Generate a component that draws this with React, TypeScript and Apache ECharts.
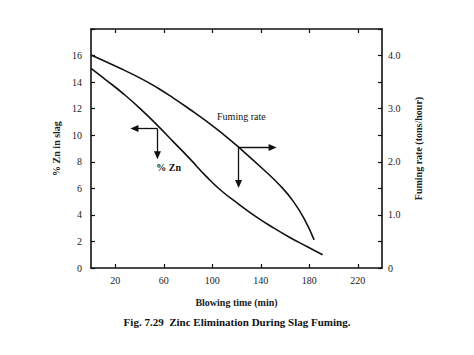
import React, { useEffect, useRef } from "react";
import * as echarts from "echarts";

const timeZn = [0, 13, 27, 41, 55, 68, 82, 95, 108, 122, 136, 150, 164, 178, 191];
const znValues = [15.04, 14.12, 13.1, 11.97, 10.72, 9.5, 8.18, 6.9, 5.78, 4.8, 3.87, 3.05, 2.3, 1.62, 1.0];

const timeFume = [0, 24, 41, 55, 68, 82, 96, 109, 121, 142, 156.5, 167, 176, 184];
const fumeValues = [4.01, 3.76, 3.57, 3.39, 3.2, 2.98, 2.75, 2.52, 2.29, 1.86, 1.54, 1.25, 0.92, 0.53];

const xTicks = [20, 60, 100, 140, 180, 220];

const FONT = "'Liberation Serif', 'DejaVu Serif', serif";

export default function App() {
  const ref = useRef<HTMLDivElement>(null);
  useEffect(() => {
    if (!ref.current) return;
    const chart = echarts.init(ref.current, null, { renderer: "svg" });
    const axisLine = { show: true, onZero: false, lineStyle: { color: "#111", width: 1.6 } };
    const tick = { show: true, inside: true, length: 4, lineStyle: { color: "#111", width: 1.2 } };
    const labelPoint = (text: string, coord: number[], bold: boolean) => ({
      symbol: "circle",
      symbolSize: 1,
      itemStyle: { color: "rgba(0,0,0,0)" },
      label: {
        show: true,
        position: "inside",
        formatter: text,
        color: "#111",
        fontFamily: FONT,
        fontSize: 10,
        fontWeight: bold ? "bold" : "normal",
      },
      data: [{ coord }],
    });
    chart.setOption({
      animation: false,
      backgroundColor: "#fff",
      grid: { left: 91, right: 92, top: 29, bottom: 87 },
      xAxis: [
        {
          type: "value",
          position: "bottom",
          min: 0,
          max: 240,
          axisLine,
          axisTick: { ...tick, customValues: xTicks },
          axisLabel: { customValues: xTicks, color: "#222", fontFamily: FONT, fontSize: 10, margin: 7 },
          splitLine: { show: false },
          name: "Blowing time (min)",
          nameLocation: "middle",
          nameGap: 29,
          nameTextStyle: { color: "#222", fontFamily: FONT, fontSize: 10, fontWeight: "bold" },
        },
        {
          type: "value",
          position: "top",
          min: 0,
          max: 240,
          axisLine,
          axisTick: { ...tick, customValues: xTicks },
          axisLabel: { show: false },
          splitLine: { show: false },
        },
      ],
      yAxis: [
        {
          type: "value",
          position: "left",
          min: 0,
          max: 18,
          interval: 2,
          axisLine,
          axisTick: tick,
          axisLabel: {
            color: "#222",
            fontFamily: FONT,
            fontSize: 10,
            margin: 9,
            formatter: (v: number) => (v === 18 ? "" : String(v)),
          },
          splitLine: { show: false },
          name: "% Zn in slag",
          nameLocation: "middle",
          nameGap: 29,
          nameRotate: 90,
          nameTextStyle: { color: "#222", fontFamily: FONT, fontSize: 10, fontWeight: "bold" },
        },
        {
          type: "value",
          position: "right",
          min: 0,
          max: 4.5,
          interval: 0.5,
          axisLine,
          axisTick: tick,
          axisLabel: {
            color: "#222",
            fontFamily: FONT,
            fontSize: 10,
            margin: 6,
            formatter: (v: number) => (v === 0 ? "0" : Math.abs(v % 1) < 1e-9 ? v.toFixed(1) : ""),
          },
          splitLine: { show: false },
          name: "Fuming rate (tons/hour)",
          nameLocation: "middle",
          nameGap: 31,
          nameRotate: 90,
          nameTextStyle: { color: "#222", fontFamily: FONT, fontSize: 10, fontWeight: "bold" },
        },
      ],
      series: [
        {
          type: "line",
          name: "% Zn",
          xAxisIndex: 0,
          yAxisIndex: 0,
          data: timeZn.map((t, i) => [t, znValues[i]]),
          smooth: 0.5,
          showSymbol: false,
          lineStyle: { color: "#111", width: 1.6 },
          markLine: {
            silent: true,
            symbol: ["none", "triangle"],
            symbolSize: [7, 8],
            lineStyle: { color: "#111", width: 1.3, type: "solid" },
            label: { show: false },
            data: [
              [{ coord: [54.8, 10.5] }, { coord: [35.8, 10.5] }],
              [{ coord: [54.8, 10.5] }, { coord: [54.8, 8.5] }],
            ],
          },
          markPoint: labelPoint("% Zn", [64, 7.6], true),
        },
        {
          type: "line",
          name: "Fuming rate",
          xAxisIndex: 0,
          yAxisIndex: 1,
          data: timeFume.map((t, i) => [t, fumeValues[i]]),
          smooth: 0.5,
          showSymbol: false,
          lineStyle: { color: "#111", width: 1.6 },
          markLine: {
            silent: true,
            symbol: ["none", "triangle"],
            symbolSize: [7, 8],
            lineStyle: { color: "#111", width: 1.3, type: "solid" },
            label: { show: false },
            data: [
              [{ coord: [121.7, 2.27] }, { coord: [149.8, 2.27] }],
              [{ coord: [121.7, 2.27] }, { coord: [121.7, 1.58] }],
            ],
          },
          markPoint: labelPoint("Fuming rate", [124, 2.86], false),
        },
      ],
      graphic: [
        {
          type: "text",
          left: "center",
          top: 316,
          style: {
            text: "Fig. 7.29  Zinc Elimination During Slag Fuming.",
            fill: "#111",
            font: `bold 11px ${FONT}`,
          },
        },
      ],
    });
    return () => chart.dispose();
  }, []);
  return <div ref={ref} style={{ width: 474, height: 355, margin: -8 }} />;
}
